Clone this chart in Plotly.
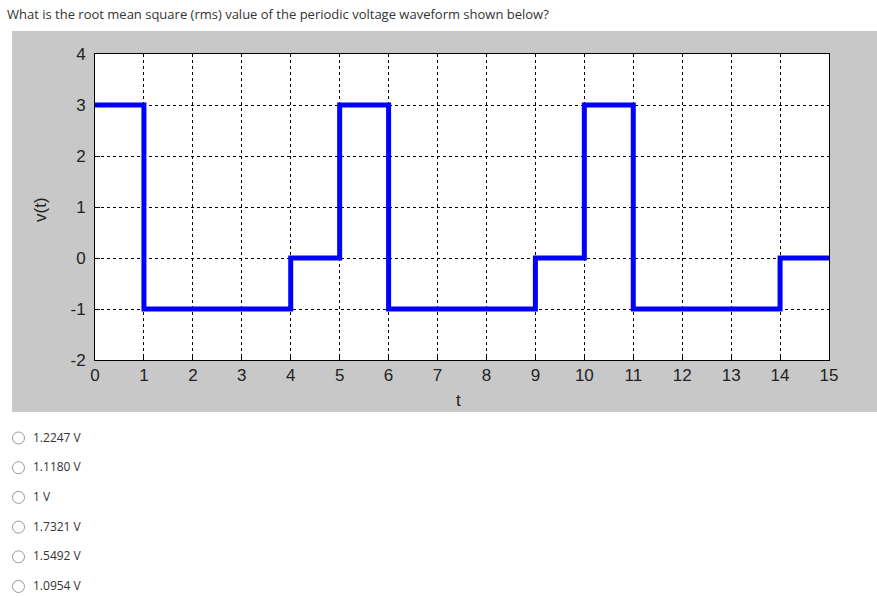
import plotly.graph_objects as go

# waveform corners (t, v) - drawn as a step line
t_points = [0, 1, 4, 5, 6, 9, 10, 11, 14, 15]
v_points = [3, -1, 0, 3, -1, 0, 3, -1, 0, 0]

x_ticks = list(range(0, 16))
y_ticks = [-2, -1, 0, 1, 2, 3, 4]
y_labels = ['-2', '-1', '0', '1', '2', '3', '4']

question = "What is the root mean square (rms) value of the periodic voltage waveform shown below?"
answers = ["1.2247 V", "1.1180 V", "1 V", "1.7321 V", "1.5492 V", "1.0954 V"]

W, H = 877, 596
L, R, T, B = 95, 48, 54, 236
pw = W - L - R
ph = H - T - B


def px(x):
    return (x - L) / pw


def py(y):
    return (H - B - y) / ph


fig = go.Figure()
fig.add_trace(go.Scatter(x=t_points, y=v_points, mode='lines',
                         line=dict(color='#0000ff', width=5, shape='hv'),
                         hoverinfo='skip', showlegend=False))

# grey figure window behind the axes, white axes face on top of it
fig.add_shape(type='rect', xref='paper', yref='paper', layer='below',
              x0=px(12), x1=px(877), y0=py(412), y1=py(31),
              fillcolor='#c8c8c8', line=dict(width=0))
fig.add_shape(type='rect', xref='x', yref='y', layer='below',
              x0=x_ticks[0], x1=x_ticks[-1], y0=y_ticks[0], y1=y_ticks[-1],
              fillcolor='white', line=dict(width=0))

axis_font = dict(family='Liberation Sans, Arial', size=17, color='#222222')
common = dict(showline=True, mirror=True, linecolor='black', linewidth=1,
              ticks='inside', ticklen=5, tickcolor='black',
              showgrid=True, gridcolor='black', gridwidth=1, griddash='3px,3px',
              zeroline=False, tickfont=axis_font, fixedrange=True)

fig.update_xaxes(range=[0, 15], tickvals=x_ticks, **common)
fig.update_yaxes(range=[-2, 4], tickvals=y_ticks, ticktext=y_labels,
                 ticklabelstandoff=5, **common)

fig.add_annotation(text='v(t)', xref='paper', yref='paper', x=px(40), y=py(210),
                   textangle=-90, showarrow=False, font=axis_font,
                   xanchor='center', yanchor='middle')
fig.add_annotation(text='t', xref='paper', yref='paper', x=px(458), y=py(400),
                   showarrow=False, font=axis_font,
                   xanchor='center', yanchor='middle')

text_font = dict(family='Open Sans', size=13, color='#333333')
fig.add_annotation(text=question, xref='paper', yref='paper', x=px(5), y=py(14),
                   showarrow=False, font=text_font, xanchor='left', yanchor='middle')

opt_font = dict(family='Open Sans', size=12, color='#333333')
for i, a in enumerate(answers):
    yc = 438 + i * 29.7
    fig.add_shape(type='circle', xref='paper', yref='paper',
                  x0=px(12.5), x1=px(24.5), y0=py(yc + 6), y1=py(yc - 6),
                  line=dict(color='#999999', width=1), fillcolor='white')
    fig.add_annotation(text=a, xref='paper', yref='paper', x=px(31), y=py(yc - 1),
                       showarrow=False, font=opt_font, xanchor='left', yanchor='middle')

fig.update_layout(width=W, height=H, margin=dict(l=L, r=R, t=T, b=B),
                  paper_bgcolor='white', plot_bgcolor='white', showlegend=False)

fig.write_html("out.html", config={'displayModeBar': False},
               post_script="document.body.style.margin='0';")
